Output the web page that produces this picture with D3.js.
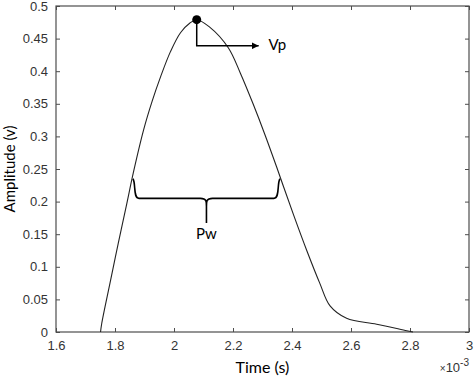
<!DOCTYPE html>
<html>
<head>
<meta charset="utf-8">
<script src="https://cdn.jsdelivr.net/npm/d3@7"></script>
<style>
  body { margin: 0; background: #fff; }
</style>
</head>
<body>
<div id="chart"></div>
<script>
// time in units of 1e-3 s, amplitude in v
const timeValues = [1.751, 1.755, 1.783, 1.811, 1.840, 1.862, 1.897, 1.926, 1.955, 1.988, 2.022, 2.054, 2.077,
  2.120, 2.184, 2.225, 2.268, 2.308, 2.348, 2.372, 2.405, 2.450, 2.494, 2.529, 2.585, 2.687, 2.789, 2.810];
const ampValues = [0, 0.013, 0.075, 0.136, 0.197, 0.244, 0.310, 0.354, 0.392, 0.430, 0.459, 0.474, 0.479,
  0.468, 0.436, 0.397, 0.350, 0.303, 0.253, 0.222, 0.180, 0.125, 0.075, 0.040, 0.021, 0.012, 0.002, 0];
const xTicks = [1.6, 1.8, 2.0, 2.2, 2.4, 2.6, 2.8, 3.0];
const yTicks = [0, 0.05, 0.1, 0.15, 0.2, 0.25, 0.3, 0.35, 0.4, 0.45, 0.5];
const peak = [2.077, 0.479];
const pwStart = 1.861, pwEnd = 2.359;

const width = 474, height = 382;
const margin = {left: 56, right: 5, top: 6, bottom: 50};
const axisColor = "#4d4d4d";
const labelFont = "Lato, 'Open Sans', sans-serif";
const tickFont = "'Liberation Sans', Arial, sans-serif";

const svg = d3.select("#chart").append("svg")
  .attr("width", width)
  .attr("height", height);

const x = d3.scaleLinear().domain([1.6, 3.0]).range([margin.left, width - margin.right]);
const y = d3.scaleLinear().domain([0, 0.5]).range([height - margin.bottom, margin.top]);

function styleAxis(g, showLabels) {
  g.select(".domain").remove();
  g.selectAll(".tick line").attr("stroke", axisColor);
  g.selectAll(".tick text")
    .attr("fill", "#333")
    .attr("font-family", tickFont)
    .attr("font-size", "13px");
  if (!showLabels) g.selectAll(".tick text").remove();
}

// bottom / left with labels, top / right just ticks (box on)
svg.append("g").attr("transform", `translate(0,${y(0)})`)
  .call(d3.axisBottom(x).tickValues(xTicks).tickSizeInner(-4).tickSizeOuter(0).tickPadding(9).tickFormat(d3.format("")))
  .call(g => styleAxis(g, true));
svg.append("g").attr("transform", `translate(0,${y(0.5)})`)
  .call(d3.axisTop(x).tickValues(xTicks).tickSizeInner(-4).tickSizeOuter(0))
  .call(g => styleAxis(g, false));
svg.append("g").attr("transform", `translate(${x(1.6)},0)`)
  .call(d3.axisLeft(y).tickValues(yTicks).tickSizeInner(-4).tickSizeOuter(0).tickPadding(8).tickFormat(d3.format("")))
  .call(g => styleAxis(g, true));
svg.append("g").attr("transform", `translate(${x(3.0)},0)`)
  .call(d3.axisRight(y).tickValues(yTicks).tickSizeInner(-4).tickSizeOuter(0))
  .call(g => styleAxis(g, false));

svg.append("rect")
  .attr("x", x(1.6)).attr("y", y(0.5))
  .attr("width", x(3.0) - x(1.6)).attr("height", y(0) - y(0.5))
  .attr("fill", "none").attr("stroke", axisColor).attr("stroke-width", 1.2);

// pulse curve
const pts = timeValues.map((t, i) => ({t: t, v: ampValues[i]}));
const line = d3.line().x(d => x(d.t)).y(d => y(d.v)).curve(d3.curveCatmullRom.alpha(0.5));
svg.append("path")
  .datum(pts)
  .attr("d", line)
  .attr("fill", "none")
  .attr("stroke", "#222")
  .attr("stroke-width", 1.1);

// Vp marker and arrow
svg.append("defs").append("marker")
  .attr("id", "arrow")
  .attr("viewBox", "0 0 10 10")
  .attr("refX", 10).attr("refY", 5)
  .attr("markerWidth", 7).attr("markerHeight", 7)
  .attr("markerUnits", "userSpaceOnUse")
  .attr("orient", "auto")
  .append("path").attr("d", "M0,0 L10,5 L0,10 z").attr("fill", "#000");

svg.append("path")
  .attr("d", `M${x(peak[0])},${y(peak[1])} V${y(0.439)} H${x(2.287)}`)
  .attr("fill", "none")
  .attr("stroke", "#000")
  .attr("stroke-width", 1.5)
  .attr("marker-end", "url(#arrow)");
svg.append("circle")
  .attr("cx", x(peak[0])).attr("cy", y(peak[1]))
  .attr("r", 4.5).attr("fill", "#000");
svg.append("text")
  .attr("x", x(2.32)).attr("y", y(0.439))
  .attr("dominant-baseline", "middle")
  .attr("font-family", labelFont).attr("font-size", "15px")
  .text("Vp");

// Pw brace
const bL = x(pwStart), bR = x(pwEnd), bM = (bL + bR) / 2;
const bTop = y(0.235), bBar = y(0.205), bTip = y(0.167);
const brace = `M${bL},${bTop} C${bL + 3},${bTop + 5} ${bL},${bBar} ${bL + 6},${bBar}`
  + ` H${bM - 6} C${bM},${bBar} ${bM},${bBar + 3} ${bM},${bBar + 8} V${bTip}`
  + ` M${bM},${bBar + 8} C${bM},${bBar + 3} ${bM},${bBar} ${bM + 6},${bBar}`
  + ` H${bR - 6} C${bR},${bBar} ${bR - 3},${bTop + 5} ${bR},${bTop}`;
svg.append("path")
  .attr("d", brace)
  .attr("fill", "none")
  .attr("stroke", "#000")
  .attr("stroke-width", 1.6);
svg.append("text")
  .attr("x", bM).attr("y", y(0.148))
  .attr("text-anchor", "middle")
  .attr("dominant-baseline", "middle")
  .attr("font-family", labelFont).attr("font-size", "15px")
  .text("Pw");

// axis titles
svg.append("text")
  .attr("x", (x(1.6) + x(3.0)) / 2).attr("y", 373)
  .attr("text-anchor", "middle")
  .attr("font-family", labelFont).attr("font-size", "16px")
  .text("Time (s)");
svg.append("text")
  .attr("transform", `translate(15,${(y(0) + y(0.5)) / 2}) rotate(-90)`)
  .attr("text-anchor", "middle")
  .attr("font-family", labelFont).attr("font-size", "15px")
  .text("Amplitude (v)");

// exponent label
const expo = svg.append("text")
  .attr("x", x(3.0)).attr("y", 372)
  .attr("text-anchor", "end")
  .attr("font-family", tickFont).attr("font-size", "13px")
  .attr("fill", "#333");
expo.append("tspan").attr("font-size", "10px").text("\u00d7");
expo.append("tspan").text("10");
expo.append("tspan").attr("dy", -6).attr("font-size", "10px").text("-3");
</script>
</body>
</html>
